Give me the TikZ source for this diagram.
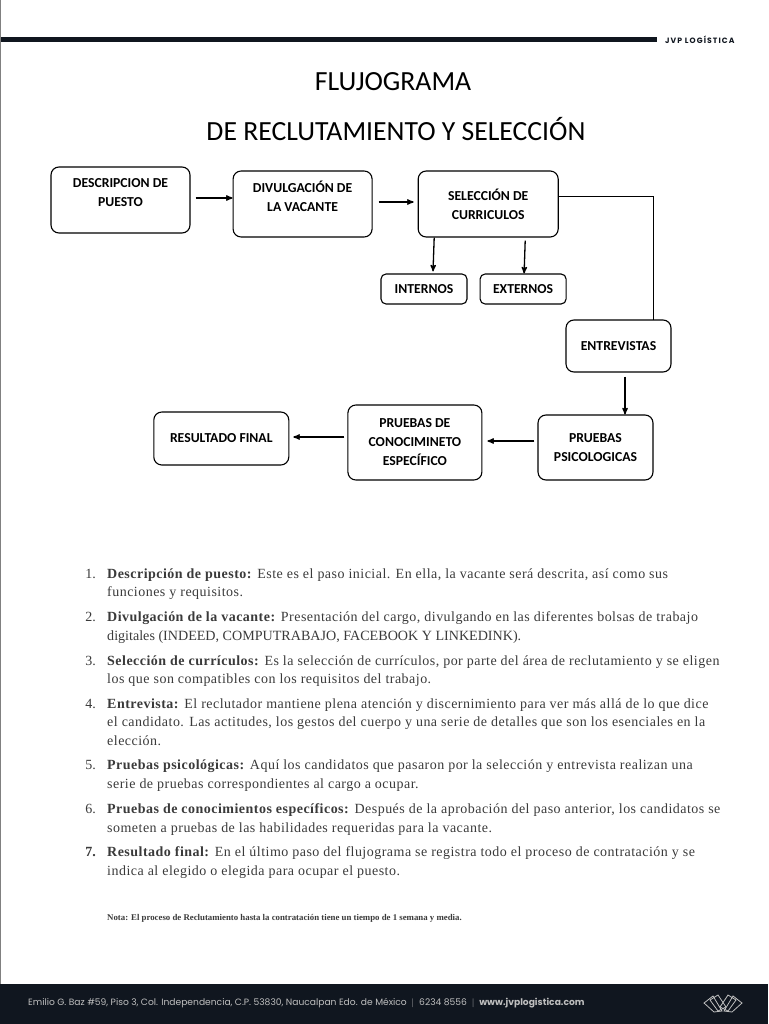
\documentclass[tikz,border=0pt]{standalone}
\usepackage{fontspec}
\setmainfont{Liberation Serif}
\newfontfamily\boxfont{Carlito}
\newfontfamily\footfont{Poppins}
\usetikzlibrary{positioning, arrows}
\definecolor{inkdark}{HTML}{10161F}
\definecolor{bodygray}{HTML}{3A3A3A}
\tikzset{
	paso/.style={draw, line width=1.1pt, rounded corners=8pt, align=center, font=\boxfont\bfseries\fontsize{13.7}{19}\selectfont, inner sep=0pt},
	linea/.style={anchor=base west, inner sep=0pt, text=bodygray, font=\fontsize{14}{15}\selectfont\addfontfeature{LetterSpace=3.4}},
	num/.style={anchor=base east, inner sep=0pt, text=bodygray, font=\fontsize{14}{15}\selectfont},
	flecha/.style={->, line width=1.3pt, >=stealth'},
	pieletra/.style={white!75!black, line width=0.8pt}
}
\begin{document}
\begin{tikzpicture}[x=1pt, y=-1pt]
		\useasboundingbox (0,0) rectangle (768,1024);
		
			% franjas de la hoja
			\fill[inkdark] (0,37) rectangle (657,42.5);
			\fill[inkdark] (0,984) rectangle (768,1024);
			\draw[gray, line width=0.8pt] (0.4,0) -- (0.4,984);
			\node (marca) [anchor=west, inner sep=0pt, text=inkdark] at (665,39.5) {\footfont\fontsize{7.7}{9}\selectfont\addfontfeature{LetterSpace=14}\bfseries JVP LOGÍSTICA};
			
			% titulos
			\node (titulo1) [inner sep=0pt, font=\boxfont\fontsize{27.7}{30}\selectfont] at (393,82) {FLUJOGRAMA};
			\node (titulo2) [inner sep=0pt, font=\boxfont\fontsize{27.7}{30}\selectfont] at (396,129) {DE RECLUTAMIENTO Y SELECCIÓN};
			
			% pasos
			\node (desc) [paso, minimum width=139pt, minimum height=66pt] at (120.5,200) {DESCRIPCION DE\\PUESTO\\[-10pt]\strut};
			\node (divul) [paso, minimum width=139pt, minimum height=66pt, right=42pt of desc, yshift=-4pt] {DIVULGACIÓN DE\\LA VACANTE\\[-9pt]\strut};
			\node (selec) [paso, minimum width=140pt, minimum height=66pt, right=45pt of divul] {SELECCIÓN DE\\CURRICULOS};
			\node (inter) [paso, minimum width=86pt, minimum height=30pt, rounded corners=5pt] at (424,289) {INTERNOS};
			\node (exter) [paso, minimum width=86pt, minimum height=30pt, rounded corners=5pt, right=12pt of inter] {EXTERNOS};
			\node (entre) [paso, minimum width=105pt, minimum height=52pt] at (618.5,346) {ENTREVISTAS};
			\node (psico) [paso, minimum width=115pt, minimum height=65pt] at (595.5,447.5) {PRUEBAS\\PSICOLOGICAS};
			\node (conoc) [paso, minimum width=134pt, minimum height=75pt, left=55pt of psico, yshift=5pt] {PRUEBAS DE\\CONOCIMINETO\\ESPECÍFICO};
			\node (resul) [paso, minimum width=135pt, minimum height=53pt, left=58pt of conoc, yshift=4pt] {RESULTADO FINAL};
			
			% puntos de paso de las flechas
			\coordinate (codo1) at (653,196);
			\coordinate (codo2) at (653,320);
			
				\draw[flecha] ([xshift=5pt,yshift=2pt]desc.east) -- ([yshift=6pt]divul.west);
				\draw[flecha] ([xshift=6pt,yshift=2pt]divul.east) -- ([xshift=-4pt,yshift=2pt]selec.west);
				\draw[flecha] ([xshift=-54pt]selec.south) -- ([xshift=9pt,yshift=2pt]inter.north);
				\draw[flecha] ([xshift=37pt,yshift=-3pt]selec.south) -- ([xshift=1pt]exter.north);
				\draw[line width=0.8pt] ([yshift=8pt]selec.east) -- (codo1) -- (codo2);
				\draw[flecha] ([xshift=6.5pt,yshift=-4pt]entre.south) -- ([xshift=29.5pt]psico.north);
				\draw[flecha] ([xshift=-3pt,yshift=6.5pt]psico.west) -- ([xshift=5pt,yshift=1.5pt]conoc.east);
				\draw[flecha] ([xshift=-3pt,yshift=5.5pt]conoc.west) -- ([xshift=4pt,yshift=1.5pt]resul.east);
			
			% lista
			\node (n1) [num] at (96,578) {1.};
			\node (l1a) [linea] at (107,578) {\textbf{Descripción de puesto:} Este es el paso inicial. En ella, la vacante será descrita, así como sus};
			\node (l1b) [linea] at (107,596) {funciones y requisitos.};
			\node (n2) [num] at (96,621) {2.};
			\node (l2a) [linea] at (107,621) {\textbf{Divulgación de la vacante:} Presentación del cargo, divulgando en las diferentes bolsas de trabajo};
			\node (l2b) [linea, font=\fontsize{14.1}{15}\selectfont] at (107,640) {digitales (INDEED, COMPUTRABAJO, FACEBOOK Y LINKEDINK).};
			\node (n3) [num] at (96,665) {3.};
			\node (l3a) [linea] at (107,665) {\textbf{Selección de currículos:} Es la selección de currículos, por parte del área de reclutamiento y se eligen};
			\node (l3b) [linea] at (107,683) {los que son compatibles con los requisitos del trabajo.};
			\node (n4) [num] at (96,708) {4.};
			\node (l4a) [linea] at (107,708) {\textbf{Entrevista:} El reclutador mantiene plena atención y discernimiento para ver más allá de lo que dice};
			\node (l4b) [linea] at (107,726) {el candidato. Las actitudes, los gestos del cuerpo y una serie de detalles que son los esenciales en la};
			\node (l4c) [linea] at (107,745) {elección.};
			\node (n5) [num] at (96,769) {5.};
			\node (l5a) [linea] at (107,769) {\textbf{Pruebas psicológicas:} Aquí los candidatos que pasaron por la selección y entrevista realizan una};
			\node (l5b) [linea] at (107,788) {serie de pruebas correspondientes al cargo a ocupar.};
			\node (n6) [num] at (96,813) {6.};
			\node (l6a) [linea] at (107,813) {\textbf{Pruebas de conocimientos específicos:} Después de la aprobación del paso anterior, los candidatos se};
			\node (l6b) [linea] at (107,832) {someten a pruebas de las habilidades requeridas para la vacante.};
			\node (n7) [num] at (96,856) {\textbf{7.}};
			\node (l7a) [linea] at (107,856) {\textbf{Resultado final:} En el último paso del flujograma se registra todo el proceso de contratación y se};
			\node (l7b) [linea] at (107,875) {indica al elegido o elegida para ocupar el puesto.};
			\node (nota) [linea, font=\bfseries\fontsize{8.8}{10}\selectfont] at (107,920) {Nota: El proceso de Reclutamiento hasta la contratación tiene un tiempo de 1 semana y media.};
			
			% pie
			\node (pie) [anchor=west, inner sep=0pt, text=white!75!black, font=\footfont\fontsize{9.15}{11}\selectfont] at (28,1003.5) {Emilio G. Baz \#59, Piso 3, Col. Independencia, C.P. 53830, Naucalpan Edo. de México \ $|$ \ 6234 8556 \ $|$ \ \textbf{www.jvplogistica.com}};
			\draw[pieletra] (704,1003) -- (713,996) -- (722,1011) -- (714,1012) -- cycle;
			\draw[pieletra] (710,1000) -- (718,995) -- (726,1007) -- (718,1011) -- cycle;
			\draw[pieletra] (742,1003) -- (733,996) -- (724,1011) -- (732,1012) -- cycle;
			\draw[pieletra] (736,1000) -- (728,995) -- (720,1007) -- (728,1011) -- cycle;
		
		\end{tikzpicture}
\end{document}
